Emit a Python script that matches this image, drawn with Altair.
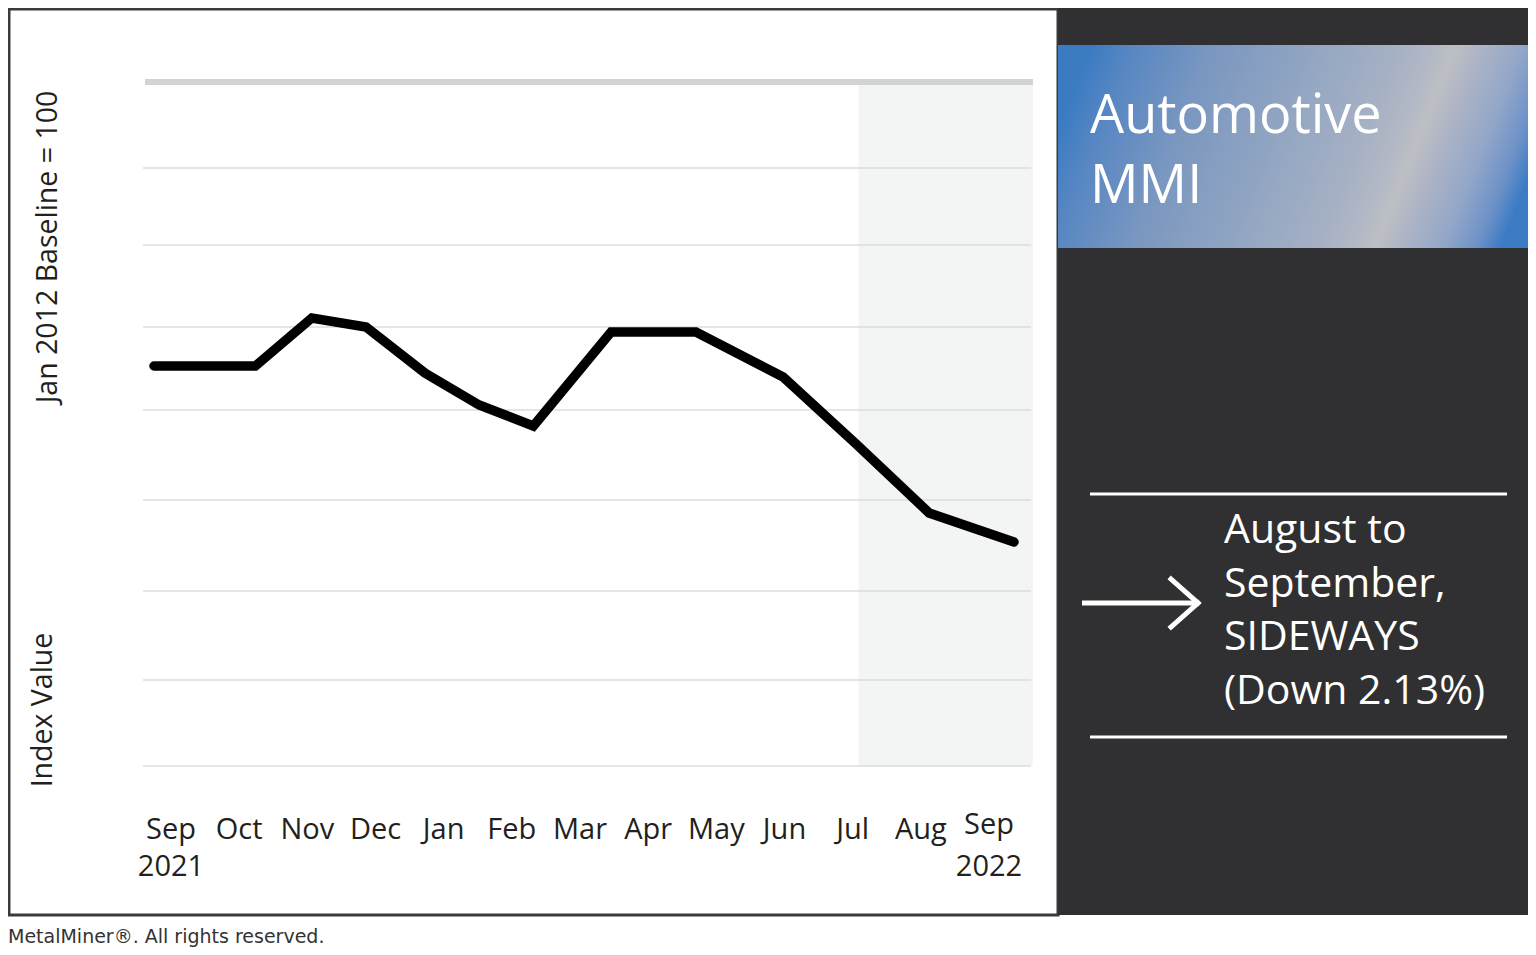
import altair as alt
import pandas as pd

# ---------------- data ----------------
dates = ["2021-09-01", "2021-10-14", "2021-11-07", "2021-11-30", "2021-12-25",
         "2022-01-17", "2022-02-09", "2022-03-14", "2022-04-19", "2022-05-26",
         "2022-06-26", "2022-07-27", "2022-09-01"]
index_values = [150.9, 150.9, 155.7, 154.8, 150.2, 147.0, 144.9, 154.3, 154.3,
                149.8, 143.1, 136.2, 133.3]

month_keys = ["2021-09", "2021-10", "2021-11", "2021-12", "2022-01", "2022-02",
              "2022-03", "2022-04", "2022-05", "2022-06", "2022-07", "2022-08", "2022-09"]
month_labels = ["Sep", "Oct", "Nov", "Dec", "Jan", "Feb", "Mar", "Apr", "May",
                "Jun", "Jul", "Aug", "Sep"]
year_labels = ["2021", "", "", "", "", "", "", "", "", "", "", "", "2022"]

grid_values = [170.7, 163.0, 154.8, 146.5, 137.5, 128.4, 119.5, 110.9]
top_value = [179.3]
shade_start = ["2022-06-27"]
shade_end = ["2022-09-09"]

title_lines = ["Automotive", "MMI"]
summary_lines = ["August to", "September,", "SIDEWAYS", "(Down 2.13%)"]
y_title_top = "Jan 2012 Baseline = 100"
y_title_bottom = "Index Value"
footer = "MetalMiner®. All rights reserved."

# ---------------- tables ----------------
line_df = pd.DataFrame({"date": dates, "value": index_values})
label_df = pd.DataFrame({"key": month_keys, "month": month_labels, "year": year_labels})
month_df = label_df.iloc[:-1]
last_month_df = label_df.iloc[-1:]
year_df = label_df[label_df["year"] != ""]
grid_df = pd.DataFrame({"v": grid_values})
top_df = pd.DataFrame({"v": top_value})
shade_df = pd.DataFrame({"start": shade_start, "end": shade_end})
one = alt.Data(values=[{}])

W, H = 889, 684
FONT = "Open Sans"
TXT = "#231f20"
PANEL = "#302f31"

y_scale = alt.Scale(domain=[110.9, 179.3], zero=False, nice=False)
x_time = alt.Scale(domain=[alt.DateTime(year=2021, month=9, date=1, utc=True),
                           alt.DateTime(year=2022, month=9, date=1, utc=True)],
                   range=[11, 871])
x_month = alt.Scale(type="point", domain=month_keys, range=[28, 846], padding=0)

frame = alt.Chart(one).mark_rect(fill="white", stroke="#3a3a3a", strokeWidth=3).encode(
    x=alt.value(-134), x2=alt.value(915), y=alt.value(-73), y2=alt.value(833))

panel = alt.Chart(one).mark_rect(color=PANEL).encode(
    x=alt.value(915), x2=alt.value(1400), y=alt.value(-80), y2=alt.value(833))

gradient = {
    "gradient": "linear", "x1": 0, "y1": 0.415, "x2": 1, "y2": 0.585,
    "stops": [
        {"offset": 0.0, "color": "#3b7bc2"},
        {"offset": 0.08, "color": "#5686c3"},
        {"offset": 0.25, "color": "#7a97c0"},
        {"offset": 0.45, "color": "#91a5c2"},
        {"offset": 0.62, "color": "#a5b0c4"},
        {"offset": 0.70, "color": "#b2b8c5"},
        {"offset": 0.745, "color": "#bdbfc4"},
        {"offset": 0.79, "color": "#afb5c5"},
        {"offset": 0.88, "color": "#93a7c8"},
        {"offset": 0.95, "color": "#6e92c8"},
        {"offset": 1.0, "color": "#3b7cc4"},
    ],
}
banner = alt.Chart(one).mark_rect(color=gradient).encode(
    x=alt.value(915), x2=alt.value(1391), y=alt.value(-37), y2=alt.value(166))

shade = alt.Chart(shade_df).mark_rect(color="#f3f4f4").encode(
    x=alt.X("start:T", scale=x_time, axis=None), x2="end:T",
    y=alt.value(0), y2=alt.value(H))

grid = alt.Chart(grid_df).mark_rule(color="#dcdcdc", strokeWidth=1.5).encode(
    y=alt.Y("v:Q", scale=y_scale, axis=None), x=alt.value(0), x2=alt.value(888))

top_rule = alt.Chart(top_df).mark_rule(color="#d1d3d4", strokeWidth=6).encode(
    y=alt.Y("v:Q", scale=y_scale, axis=None), x=alt.value(2), x2=alt.value(890))

line = alt.Chart(line_df).mark_line(color="black", strokeWidth=9.5, strokeCap="round").encode(
    x=alt.X("date:T", scale=x_time, axis=None),
    y=alt.Y("value:Q", scale=y_scale, axis=None))

months = alt.Chart(month_df).mark_text(font=FONT, fontSize=29, color=TXT, baseline="alphabetic").encode(
    x=alt.X("key:N", scale=x_month, axis=None, sort=None), y=alt.value(757), text="month:N")

last_month = alt.Chart(last_month_df).mark_text(font=FONT, fontSize=29, color=TXT, baseline="alphabetic").encode(
    x=alt.X("key:N", scale=x_month, axis=None, sort=None), y=alt.value(752), text="month:N")

years = alt.Chart(year_df).mark_text(font=FONT, fontSize=29, color=TXT, baseline="alphabetic").encode(
    x=alt.X("key:N", scale=x_month, axis=None, sort=None), y=alt.value(794), text="year:N")

ytitle1 = alt.Chart(one).mark_text(text=y_title_top, font=FONT, fontSize=28.5, color=TXT, angle=270,
                                   align="center", baseline="alphabetic").encode(
    x=alt.value(-86), y=alt.value(165))
ytitle2 = alt.Chart(one).mark_text(text=y_title_bottom, font=FONT, fontSize=28.5, color=TXT, angle=270,
                                   align="center", baseline="alphabetic").encode(
    x=alt.value(-91), y=alt.value(628))

t1 = alt.Chart(one).mark_text(text=title_lines[0], font=FONT, fontSize=54, color="white",
                              align="left", baseline="alphabetic").encode(
    x=alt.value(947), y=alt.value(51))
t2 = alt.Chart(one).mark_text(text=title_lines[1], font=FONT, fontSize=54, color="white",
                              align="left", baseline="alphabetic").encode(
    x=alt.value(947), y=alt.value(121))

hl1 = alt.Chart(one).mark_rule(color="white", strokeWidth=3).encode(
    x=alt.value(947), x2=alt.value(1364), y=alt.value(412), y2=alt.value(412))
hl2 = alt.Chart(one).mark_rule(color="white", strokeWidth=3).encode(
    x=alt.value(947), x2=alt.value(1364), y=alt.value(655), y2=alt.value(655))

shaft = alt.Chart(one).mark_rule(color="white", strokeWidth=5).encode(
    x=alt.value(939), x2=alt.value(1053), y=alt.value(521), y2=alt.value(521))
head1 = alt.Chart(one).mark_rule(color="white", strokeWidth=5, strokeCap="square").encode(
    x=alt.value(1028), x2=alt.value(1055), y=alt.value(497), y2=alt.value(521))
head2 = alt.Chart(one).mark_rule(color="white", strokeWidth=5, strokeCap="square").encode(
    x=alt.value(1028), x2=alt.value(1055), y=alt.value(545), y2=alt.value(521))

summary = alt.Chart(one).mark_text(text=summary_lines, font=FONT, fontSize=41, color="white",
                                   align="left", baseline="alphabetic", lineHeight=53.5).encode(
    x=alt.value(1081), y=alt.value(461))

foot = alt.Chart(one).mark_text(text=footer, font="DejaVu Sans", fontSize=19, color="#333333",
                                align="left", baseline="alphabetic").encode(
    x=alt.value(-135), y=alt.value(861))

chart = alt.layer(
    frame, panel, banner, shade, grid, top_rule, line, months, last_month, years,
    ytitle1, ytitle2, t1, t2, hl1, hl2, shaft, head1, head2, summary, foot
).resolve_scale(x="independent").properties(
    width=W, height=H,
    padding={"left": 135, "top": 74, "right": 496, "bottom": 182},
    autosize=alt.AutoSizeParams(type="none"),
).configure_view(stroke=None).configure(background="white")

chart.save("out.html", embed_options={"renderer": "svg", "actions": False})
